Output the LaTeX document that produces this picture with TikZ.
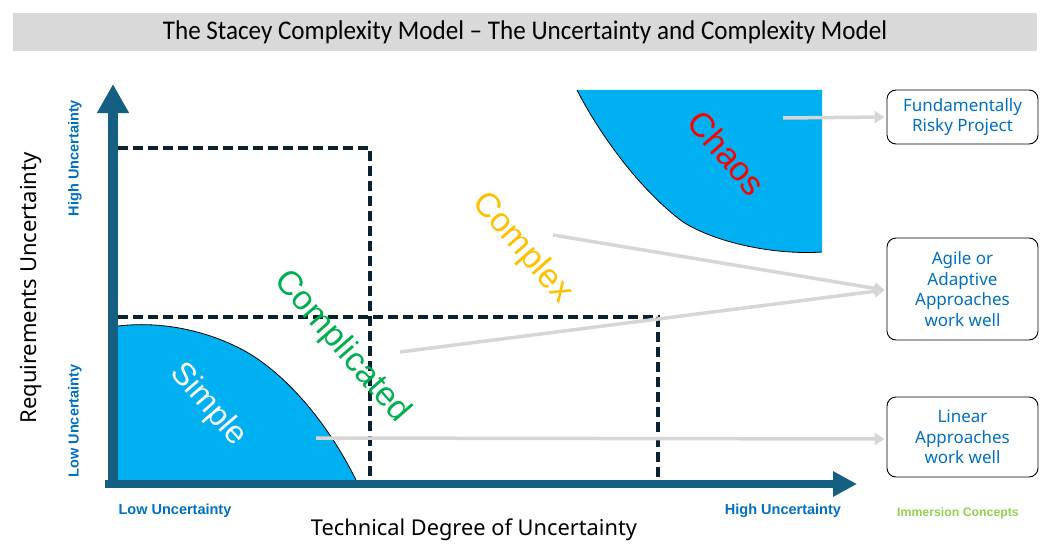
\documentclass[tikz,border=0pt]{standalone}
\usepackage{fontspec}
\setmainfont{Noto Sans}
\newfontfamily\arialf{Liberation Sans}
\newfontfamily\titlef{Carlito}
\usetikzlibrary{arrows.meta}
\definecolor{axisc}{HTML}{156082}
\definecolor{blobc}{HTML}{00B0F0}
\definecolor{titlebg}{HTML}{D9D9D9}
\definecolor{grayarr}{HTML}{D6D6D6}
\definecolor{lblblue}{HTML}{0070C0}
\definecolor{cgreen}{HTML}{00B050}
\definecolor{corange}{HTML}{FFC000}
\definecolor{immgreen}{HTML}{92D050}
\definecolor{dashc}{HTML}{0B2130}
\begin{document}
\begin{tikzpicture}[x=1pt,y=-1pt,
  dashline/.style={draw=dashc, line width=3.2pt, dash pattern=on 10pt off 5pt},
  grayarrow/.style={draw=grayarr, line width=3.5pt, -{Triangle[length=10pt,width=12pt]}},
  outcome/.style={draw=black, line width=0.9pt, rounded corners=9pt, fill=white, text=lblblue,
     minimum width=151pt, align=center, font=\fontsize{17}{20.7}\selectfont},
  zonelbl/.style={font=\arialf\fontsize{34}{40}\selectfont, rotate=-49},
  axislbl/.style={text=lblblue, font=\arialf\bfseries\fontsize{14.5}{17}\selectfont},
]
\useasboundingbox (0,0) rectangle (1053,551);
% title
\node[fill=titlebg, minimum width=1024pt, minimum height=38pt, inner sep=0pt] (title) at (525,32)
  {\scalebox{0.93}[1]{\titlef\fontsize{27}{30}\selectfont The Stacey Complexity Model – The Uncertainty and Complexity Model}};

% blobs
\fill[blobc] (118,484) -- (118,326) .. controls (170,320) and (215,335) .. (243,350)
   .. controls (275,367) and (322,410) .. (358,484) -- cycle;
\draw[line width=0.8pt, black] (118,326) .. controls (170,320) and (215,335) .. (243,350)
   .. controls (275,367) and (322,410) .. (358,484);
\fill[blobc] (577,90) .. controls (600,135) and (640,190) .. (683,222)
   .. controls (720,245) and (780,255) .. (822,252) -- (822,90) -- cycle;
\draw[line width=0.8pt, black] (577,90) .. controls (600,135) and (640,190) .. (683,222)
   .. controls (720,245) and (780,255) .. (822,252);

% dashed regions
\coordinate (d1a) at (118,148);
\coordinate (d1b) at (370,148);
\coordinate (d1c) at (370,484);
\coordinate (d2a) at (118,317);
\coordinate (d2b) at (658,317);
\coordinate (d2c) at (658,484);
\draw[dashline] (d1a) -- (d1b) -- (d1c);
\draw[dashline] (d2a) -- (d2b) -- (d2c);

% axes
\coordinate (ybot) at (113,487);
\coordinate (ytop) at (113,84);
\coordinate (xleft) at (105,484);
\coordinate (xright) at (857,484);
\draw[axisc, line width=10pt, -{Triangle[length=29pt,width=30pt]}] (ybot) -- (ytop);
\draw[axisc, line width=7.5pt, -{Triangle[length=24pt,width=24pt]}] (xleft) -- (xright);

% zone labels
\node[zonelbl, text=white, font=\arialf\fontsize{32}{38}\selectfont] (simple) at (208,405) {Simple};
\node[zonelbl, text=cgreen] (complicated) at (342,347) {Complicated};
\node[zonelbl, text=corange] (complex) at (522,248) {Complex};
\node[zonelbl, text=red] (chaos) at (727,153) {Chaos};

% outcome boxes
\node[outcome, minimum height=54pt] (risky) at (962.5,117) {Fundamentally\\Risky Project};
\node[outcome, minimum height=102pt] (agile) at (962.5,289) {Agile or\\Adaptive\\Approaches\\work well};
\node[outcome, minimum height=80pt] (linear) at (962.5,437) {Linear\\Approaches\\work well};

% gray connectors
\coordinate (s1) at (783,118);
\coordinate (s2) at (553,235);
\coordinate (s3) at (400,352);
\coordinate (s4) at (316,438);
\draw[grayarrow] (s1) -- ([xshift=-2pt]risky.west);
\draw[grayarrow] (s2) -- ([xshift=-2pt,yshift=-1pt]agile.west);
\draw[grayarrow] (s3) -- ([xshift=-2pt,yshift=-1pt]agile.west);
\draw[grayarrow] (s4) -- ([xshift=-2pt,yshift=-2pt]linear.west);

% axis labels
\node[axislbl] (xlow) at (175,511) {Low Uncertainty};
\node[axislbl] (xhigh) at (783,511) {High Uncertainty};
\node[axislbl, rotate=90] (yhigh) at (75,158) {High Uncertainty};
\node[axislbl, rotate=90] (ylow) at (75,421) {Low Uncertainty};
\node[font=\fontsize{21.8}{26}\selectfont] (xtitle) at (474,530) {Technical Degree of Uncertainty};
\node[font=\fontsize{22}{26}\selectfont, rotate=90] (ytitle) at (31,288) {Requirements Uncertainty};
\node[text=immgreen, font=\arialf\bfseries\fontsize{12.3}{14}\selectfont] (brand) at (958,513) {Immersion Concepts};
\end{tikzpicture}
\end{document}
